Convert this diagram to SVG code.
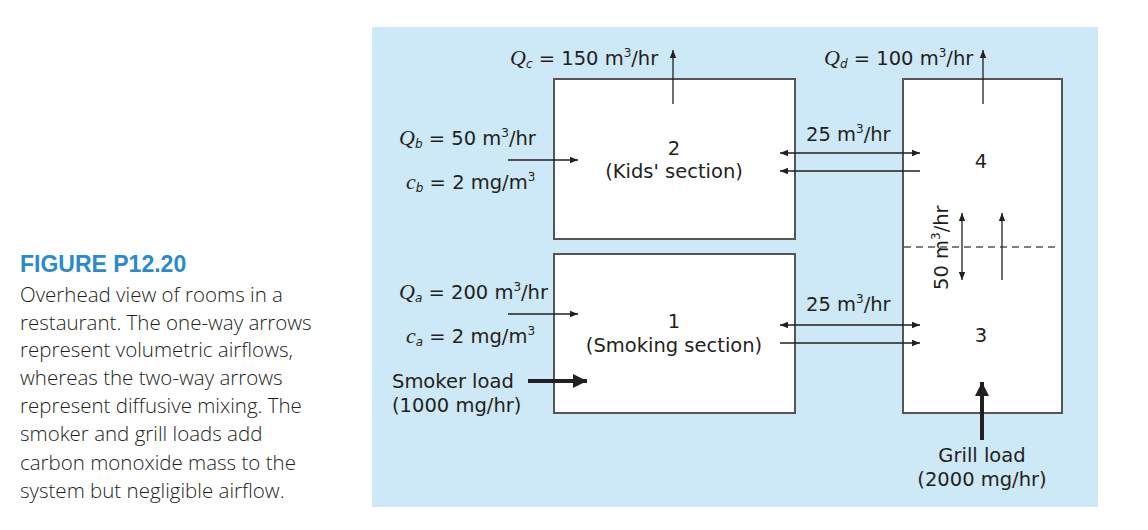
<svg xmlns="http://www.w3.org/2000/svg" width="1148" height="530" viewBox="0 0 1148 530">
<style>
text{font-family:"DejaVu Sans","Liberation Sans",Arial,sans-serif;fill:#231f20}
.l{font-size:19.5px}
.i{font-family:"Liberation Serif",serif;font-style:italic;font-size:22px}
.s{font-size:12px}
.cap{font-family:"Open Sans","Liberation Sans",sans-serif;font-weight:300;font-size:20.5px}
.box{fill:#fff;stroke:#555;stroke-width:2}
.a{stroke:#231f20;stroke-width:1.3;fill:none}
.t{stroke:#231f20;stroke-width:4;fill:none}
</style>
<defs>
<marker id="ah" viewBox="0 0 10 10" refX="10" refY="5" markerWidth="10" markerHeight="8" markerUnits="userSpaceOnUse" orient="auto-start-reverse"><path d="M0,1 L10,5 L0,9 Z" fill="#231f20"/></marker>
<marker id="th" viewBox="0 0 10 10" refX="10" refY="5" markerWidth="18" markerHeight="14" markerUnits="userSpaceOnUse" orient="auto"><path d="M0,0 L10,5 L0,10 Z" fill="#231f20"/></marker>
</defs>
<rect width="1148" height="530" fill="#fff"/>
<g id="caption">
<text x="20" y="272" style="font-family:'Liberation Sans',sans-serif;font-weight:bold;font-size:23px;fill:#2a8bc8">FIGURE P12.20</text>
<text class="cap" x="20" y="302">Overhead view of rooms in a</text>
<text class="cap" x="20" y="330">restaurant. The one-way arrows</text>
<text class="cap" x="20" y="357">represent volumetric airflows,</text>
<text class="cap" x="20" y="385">whereas the two-way arrows</text>
<text class="cap" x="20" y="413">represent diffusive mixing. The</text>
<text class="cap" x="20" y="441">smoker and grill loads add</text>
<text class="cap" x="20" y="470">carbon monoxide mass to the</text>
<text class="cap" x="20" y="498">system but negligible airflow.</text>
</g>
<rect x="372" y="27" width="726" height="480" fill="#cde8f6"/>
<g id="room2"><rect class="box" x="554" y="79" width="241" height="160"/>
<text class="l" x="674" y="155" text-anchor="middle">2</text>
<text class="l" x="674" y="178" text-anchor="middle">(Kids' section)</text></g>
<g id="room1"><rect class="box" x="554" y="254" width="241" height="159"/>
<text class="l" x="674" y="328" text-anchor="middle">1</text>
<text class="l" x="674" y="352" text-anchor="middle">(Smoking section)</text></g>
<g id="room34"><rect class="box" x="903" y="79" width="159" height="334"/>
<line x1="904" y1="247" x2="1060" y2="247" stroke="#555" stroke-width="1.3" stroke-dasharray="7,5"/>
<text class="l" x="981" y="168" text-anchor="middle">4</text>
<text class="l" x="981" y="342" text-anchor="middle">3</text></g>
<g id="connectors">
<line class="a" x1="673" y1="104" x2="673" y2="50" marker-end="url(#ah)"/>
<line class="a" x1="983" y1="104" x2="983" y2="50" marker-end="url(#ah)"/>
<line class="a" x1="508" y1="160" x2="578" y2="160" marker-end="url(#ah)"/>
<line class="a" x1="508" y1="314" x2="578" y2="314" marker-end="url(#ah)"/>
<line class="a" x1="780" y1="153" x2="920" y2="153" marker-start="url(#ah)" marker-end="url(#ah)"/>
<line class="a" x1="920" y1="171" x2="780" y2="171" marker-end="url(#ah)"/>
<line class="a" x1="780" y1="325" x2="920" y2="325" marker-start="url(#ah)" marker-end="url(#ah)"/>
<line class="a" x1="780" y1="343" x2="920" y2="343" marker-end="url(#ah)"/>
<line class="a" x1="962" y1="213" x2="962" y2="280" marker-start="url(#ah)" marker-end="url(#ah)"/>
<line class="a" x1="1002" y1="280" x2="1002" y2="213" marker-end="url(#ah)"/>
<line class="t" x1="528" y1="381" x2="587" y2="381" marker-end="url(#th)"/>
<line class="t" x1="982" y1="440" x2="982" y2="382" marker-end="url(#th)"/>
</g>
<g id="labels">
<text class="l" x="510" y="65"><tspan class="i">Q</tspan><tspan class="s" dy="3" font-style="italic">c</tspan><tspan dy="-3"> = 150 m</tspan><tspan class="s" dy="-8">3</tspan><tspan dy="8">/hr</tspan></text>
<text class="l" x="824" y="65"><tspan class="i">Q</tspan><tspan class="s" dy="3" font-style="italic">d</tspan><tspan dy="-3"> = 100 m</tspan><tspan class="s" dy="-8">3</tspan><tspan dy="8">/hr</tspan></text>
<text class="l" x="399" y="145"><tspan class="i">Q</tspan><tspan class="s" dy="3" font-style="italic">b</tspan><tspan dy="-3"> = 50 m</tspan><tspan class="s" dy="-8">3</tspan><tspan dy="8">/hr</tspan></text>
<text class="l" x="406" y="189"><tspan class="i">c</tspan><tspan class="s" dy="3" font-style="italic">b</tspan><tspan dy="-3"> = 2 mg/m</tspan><tspan class="s" dy="-8">3</tspan></text>
<text class="l" x="399" y="299"><tspan class="i">Q</tspan><tspan class="s" dy="3" font-style="italic">a</tspan><tspan dy="-3"> = 200 m</tspan><tspan class="s" dy="-8">3</tspan><tspan dy="8">/hr</tspan></text>
<text class="l" x="406" y="343"><tspan class="i">c</tspan><tspan class="s" dy="3" font-style="italic">a</tspan><tspan dy="-3"> = 2 mg/m</tspan><tspan class="s" dy="-8">3</tspan></text>
<text class="l" x="806" y="141">25 m<tspan class="s" dy="-8">3</tspan><tspan dy="8">/hr</tspan></text>
<text class="l" x="806" y="311">25 m<tspan class="s" dy="-8">3</tspan><tspan dy="8">/hr</tspan></text>
<text class="l" transform="translate(948,290) rotate(-90)">50 m<tspan class="s" dy="-8">3</tspan><tspan dy="8">/hr</tspan></text>
<text class="l" x="392" y="388">Smoker load</text>
<text class="l" x="392" y="412">(1000 mg/hr)</text>
<text class="l" x="982" y="462" text-anchor="middle">Grill load</text>
<text class="l" x="982" y="486" text-anchor="middle">(2000 mg/hr)</text>
</g>
</svg>
